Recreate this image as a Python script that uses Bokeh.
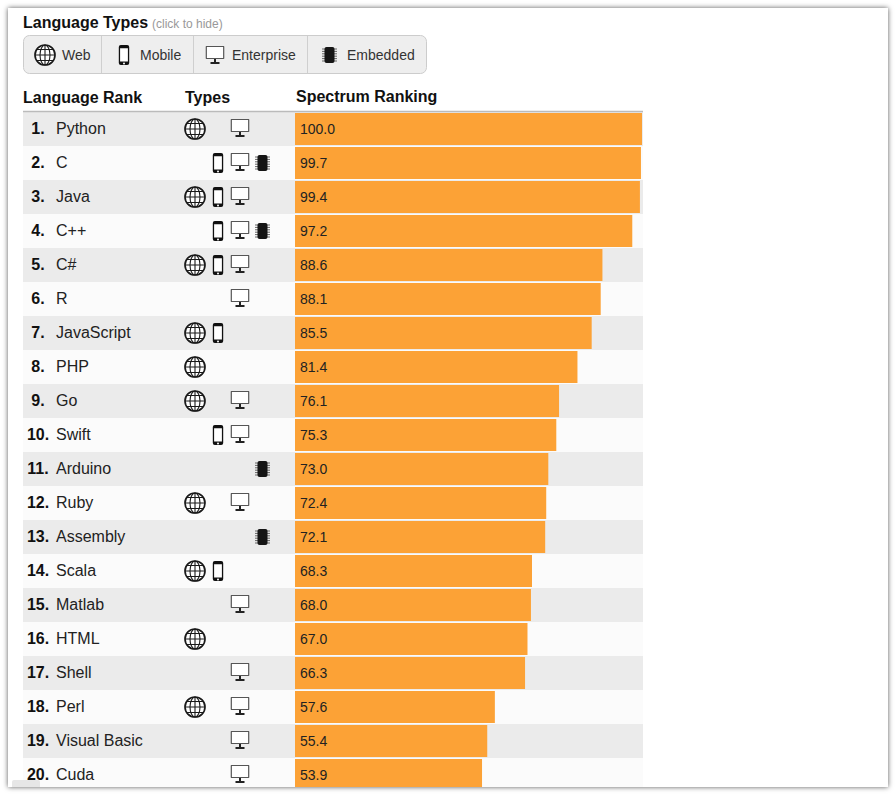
import numpy as np
from bokeh.core.properties import value
from bokeh.embed import file_html
from bokeh.models import Range1d
from bokeh.plotting import figure
from bokeh.resources import INLINE

languages = ["Python", "C", "Java", "C++", "C#", "R", "JavaScript", "PHP", "Go", "Swift",
             "Arduino", "Ruby", "Assembly", "Scala", "Matlab", "HTML", "Shell", "Perl",
             "Visual Basic", "Cuda"]
scores = [100.0, 99.7, 99.4, 97.2, 88.6, 88.1, 85.5, 81.4, 76.1, 75.3,
          73.0, 72.4, 72.1, 68.3, 68.0, 67.0, 66.3, 57.6, 55.4, 53.9]
ranks = list(range(1, 21))

web_ranks = [1, 3, 5, 7, 8, 9, 12, 14, 16, 18]
mobile_ranks = [2, 3, 4, 5, 7, 10, 14]
enterprise_ranks = [1, 2, 3, 4, 5, 6, 9, 10, 12, 15, 17, 18, 19, 20]
embedded_ranks = [2, 4, 11, 13]

button_labels = ["Web", "Mobile", "Enterprise", "Embedded"]

FONT = value("Liberation Sans")
BAR = "#fca236"
ODD_ROW = "#ebebeb"
EVEN_ROW = "#fbfbfb"
ROW_H = 34
ROW1_Y = 129
LEFT, TOP = 8.5, 8.5  # screen position of the plot's corner
RIGHT, BOTTOM = LEFT + 880, TOP + 779


def row_y(rank_list):
    return ROW1_Y + ROW_H * (np.array(rank_list) - 1)


def label(p, x, y, s, size=14, color="#222222", bold=False, align="left"):
    p.text([x], [y], text=[s], text_font=FONT, text_font_size=f"{size}px", text_color=color,
           text_font_style="bold" if bold else "normal", text_baseline="middle", text_align=align)


def draw_globe(p, xs, ys):
    ink = "#1a1a1a"
    p.ellipse(xs, ys, width=20, height=20, fill_color="white", line_color=ink, line_width=1.7)
    p.ellipse(xs, ys, width=10, height=20, fill_color=None, line_color=ink, line_width=1.1)
    p.segment(xs, ys - 10, xs, ys + 10, line_color=ink, line_width=1.1)
    p.segment(xs - 10, ys, xs + 10, ys, line_color=ink, line_width=1.1)
    for dy in (-5.5, 5.5):
        p.segment(xs - 8.4, ys + dy, xs + 8.4, ys + dy, line_color=ink, line_width=1.1)


def draw_phone(p, xs, ys):
    p.quad(left=xs - 5.2, right=xs + 5.2, top=ys - 10, bottom=ys + 10, fill_color="#111111",
           line_color=None, border_radius=2)
    p.quad(left=xs - 3.9, right=xs + 3.9, top=ys - 6.8, bottom=ys + 6.6, fill_color="white",
           line_color=None)
    p.scatter(xs, ys + 8.4, size=2, marker="circle", fill_color="white", line_color=None)


def draw_desktop(p, xs, ys):
    p.quad(left=xs - 8.7, right=xs + 8.7, top=ys - 8.5, bottom=ys + 3.5, fill_color="white",
           line_color="#555555", line_width=1.2)
    p.quad(left=xs - 1, right=xs + 1, top=ys + 4, bottom=ys + 7.5, fill_color="#222222", line_color=None)
    p.quad(left=xs - 4.5, right=xs + 4.5, top=ys + 7, bottom=ys + 9, fill_color="#222222", line_color=None)


def draw_chip(p, xs, ys):
    for dy in (-6, -3.6, -1.2, 1.2, 3.6, 6):
        p.segment(xs - 7.5, ys + dy, xs + 7.5, ys + dy, line_color="#666666", line_width=1)
    p.quad(left=xs - 5, right=xs + 5, top=ys - 8, bottom=ys + 8, fill_color="#151515",
           line_color=None, border_radius=2)


# pixel ranges are the page's own, so layout numbers below read straight off the screen
p = figure(width=880, height=779, x_range=Range1d(LEFT, RIGHT), y_range=Range1d(BOTTOM, TOP),
           x_axis_type=None, y_axis_type=None, toolbar_location=None, output_backend="svg",
           min_border=0, background_fill_color="white", border_fill_color="white")
p.outline_line_color = None
p.margin = (8, 8, 8, 8)
p.styles = {"box-shadow": "0 0 5px rgba(0,0,0,0.65)"}

px_per_score = (642 - 295) / 100
p.extra_x_ranges["score"] = Range1d((LEFT - 295) / px_per_score, (RIGHT - 295) / px_per_score)
p.extra_y_ranges["rank"] = Range1d(1 + (BOTTOM - ROW1_Y) / ROW_H, 1 + (TOP - ROW1_Y) / ROW_H)

# title and button bar
label(p, 23, 22.5, "Language Types", size=16, color="#111111", bold=True)
label(p, 152, 24, "(click to hide)", size=12, color="#999999")
p.quad(left=23.5, right=426.5, top=35.5, bottom=73.5, fill_color="#eeeeee", line_color="#cccccc",
       line_width=1, border_radius=6)
p.segment([101.5, 193.5, 307.5], 36, [101.5, 193.5, 307.5], 73, line_color="#cfcfcf", line_width=1)
for name, x in zip(button_labels, [62, 140, 232, 347]):
    label(p, x, 55, name, color="#333333")
draw_globe(p, np.array([45.0]), np.array([55.0]))
draw_phone(p, np.array([124.0]), np.array([55.0]))
draw_desktop(p, np.array([215.0]), np.array([55.0]))
draw_chip(p, np.array([329.5]), np.array([55.0]))

# column headers
label(p, 23, 97, "Language Rank", size=16, color="#111111", bold=True)
label(p, 185, 97, "Types", size=16, color="#111111", bold=True)
label(p, 296, 96, "Spectrum Ranking", size=16, color="#111111", bold=True)

# rows
row_colors = [ODD_ROW if r % 2 else EVEN_ROW for r in ranks]
p.hbar(y=ranks, left=23, right=643, height=1, fill_color=row_colors, line_color=None, y_range_name="rank")
p.segment(23, 111.5, 643, 111.5, line_color="#bbbbbb", line_width=1.5)
p.hbar(y=ranks, left=0, right=scores, height=32 / ROW_H, fill_color=BAR, line_color=None,
       x_range_name="score", y_range_name="rank")

p.text(x=38, y=ranks, text=[f"{r}." for r in ranks], text_font=FONT, text_font_size="16px",
       text_font_style="bold", text_color="#111111", text_align="center", text_baseline="middle",
       y_offset=-1, y_range_name="rank")
p.text(x=56, y=ranks, text=languages, text_font=FONT, text_font_size="16px", text_color="#222222",
       text_baseline="middle", y_offset=-1, y_range_name="rank")
p.text(x=300, y=ranks, text=[f"{s:.1f}" for s in scores], text_font=FONT, text_font_size="14px",
       text_color="#222222", text_baseline="middle", y_range_name="rank")

draw_globe(p, np.full(len(web_ranks), 195.0), row_y(web_ranks) * 1.0)
draw_phone(p, np.full(len(mobile_ranks), 218.0), row_y(mobile_ranks) * 1.0)
draw_desktop(p, np.full(len(enterprise_ranks), 240.0), row_y(enterprise_ranks) - 1.0)
draw_chip(p, np.full(len(embedded_ranks), 262.5), row_y(embedded_ranks) * 1.0)

# the stub of the horizontal scrollbar at the bottom left
p.quad(left=12, right=40, top=780, bottom=790, fill_color="#e6e6e6", line_color=None, border_radius=2)

open("out.html", "w").write(file_html(p, INLINE))
